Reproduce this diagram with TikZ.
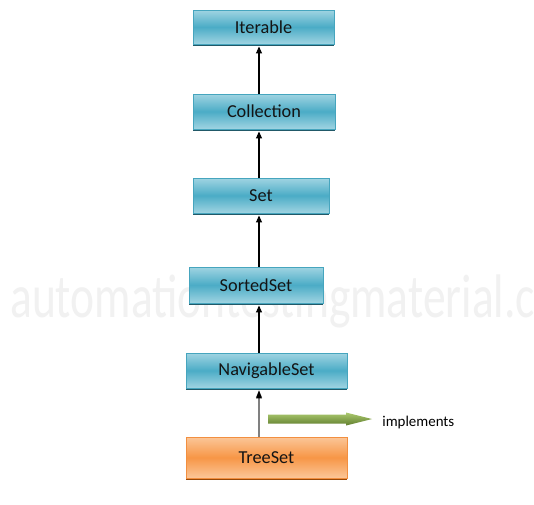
\documentclass[tikz,border=0pt]{standalone}
\usepackage{fontspec}
\setmainfont{Carlito}
\usetikzlibrary{positioning, arrows.meta, shadows, calc}
\definecolor{ifacetop}{RGB}{160,212,226}
\definecolor{ifacemid}{RGB}{75,172,198}
\definecolor{ifaceline}{RGB}{70,165,190}
\definecolor{ifaceshadow}{RGB}{33,89,104}
\definecolor{impltop}{RGB}{251,198,152}
\definecolor{implmid}{RGB}{247,150,70}
\definecolor{implline}{RGB}{242,143,64}
\definecolor{implshadow}{RGB}{152,72,7}
\definecolor{greenlight}{RGB}{172,202,112}
\definecolor{greendark}{RGB}{96,126,46}
\definecolor{marktext}{RGB}{241,241,241}

\tikzset{
  boxtext/.style={font=\fontsize{10.4}{12}\selectfont, text=black!92, inner sep=0pt},
  iface/.style={boxtext, draw=ifaceline, line width=0.5pt,
    top color=ifacetop, bottom color=ifacetop, middle color=ifacemid,
    drop shadow={shadow xshift=0pt, shadow yshift=-1.1pt, fill=ifaceshadow, opacity=1}},
  impl/.style={boxtext, draw=implline, line width=0.5pt,
    top color=impltop, bottom color=impltop, middle color=implmid,
    drop shadow={shadow xshift=0pt, shadow yshift=-1.1pt, fill=implshadow, opacity=1}},
  isa/.style={line width=0.6pt, -{Triangle[length=4pt, width=3.4pt]}}
}

\begin{document}
\begin{tikzpicture}[x=0.02cm, y=-0.02cm]
    \clip (0,0) rectangle (534,504);
    \fill[white] (0,0) rectangle (534,504);

    % Watermark
    \node[anchor=base west, inner sep=0pt, text=marktext, xscale=0.74, font=\fontsize{35}{35}\selectfont] (mark) at (10,317) {automationtestingmaterial.com};

    % Interfaces
    \node[iface, minimum width=2.82cm, minimum height=0.68cm] (iterable) at (263.5,27) {Iterable};
    \node[iface, minimum width=2.84cm, minimum height=0.7cm] (collection) at (264,111.5) {Collection};
    \node[iface, minimum width=2.72cm, minimum height=0.7cm] (set) at (261,195.5) {Set};
    \node[iface, minimum width=2.68cm, minimum height=0.72cm] (sorted) at (256,285) {SortedSet};
    \node[iface, minimum width=3.22cm, minimum height=0.7cm] (navigable) at (266.5,370.5) {NavigableSet};

    % Class
    \node[impl, minimum width=3.22cm, minimum height=0.82cm] (treeset) at (266.5,457.5) {TreeSet};

    % Hierarchy arrows
    \coordinate (spine) at (259,0);
    \foreach \lo/\hi in {collection/iterable, set/collection, sorted/set, navigable/sorted} {
        \draw[isa] (\lo.north -| spine) -- ($(\hi.south -| spine)+(0,2)$);
    }
    \draw[isa, draw=black!50] (treeset.north -| spine) -- ($(navigable.south -| spine)+(0,2)$);
    \fill[black] ($(navigable.south -| spine)+(0,2)$) -- ++(-3,8) -- ++(6,0) -- cycle;

    % Legend
    \coordinate (legtail) at (268,419);
    \coordinate (leghead) at (372,419);
    \shade[top color=greenlight, bottom color=greendark]
        ($(legtail)+(0,-4.5)$) -- ($(leghead)+(-26,-4.5)$) -- ($(leghead)+(-26,-6.5)$) -- (leghead)
        -- ($(leghead)+(-26,6.5)$) -- ($(leghead)+(-26,4.5)$) -- ($(legtail)+(0,4.5)$) -- cycle;
    \node[anchor=west, inner sep=0pt, font=\fontsize{8.5}{10}\selectfont] (legend) at (382,423) {implements};
\end{tikzpicture}
\end{document}
